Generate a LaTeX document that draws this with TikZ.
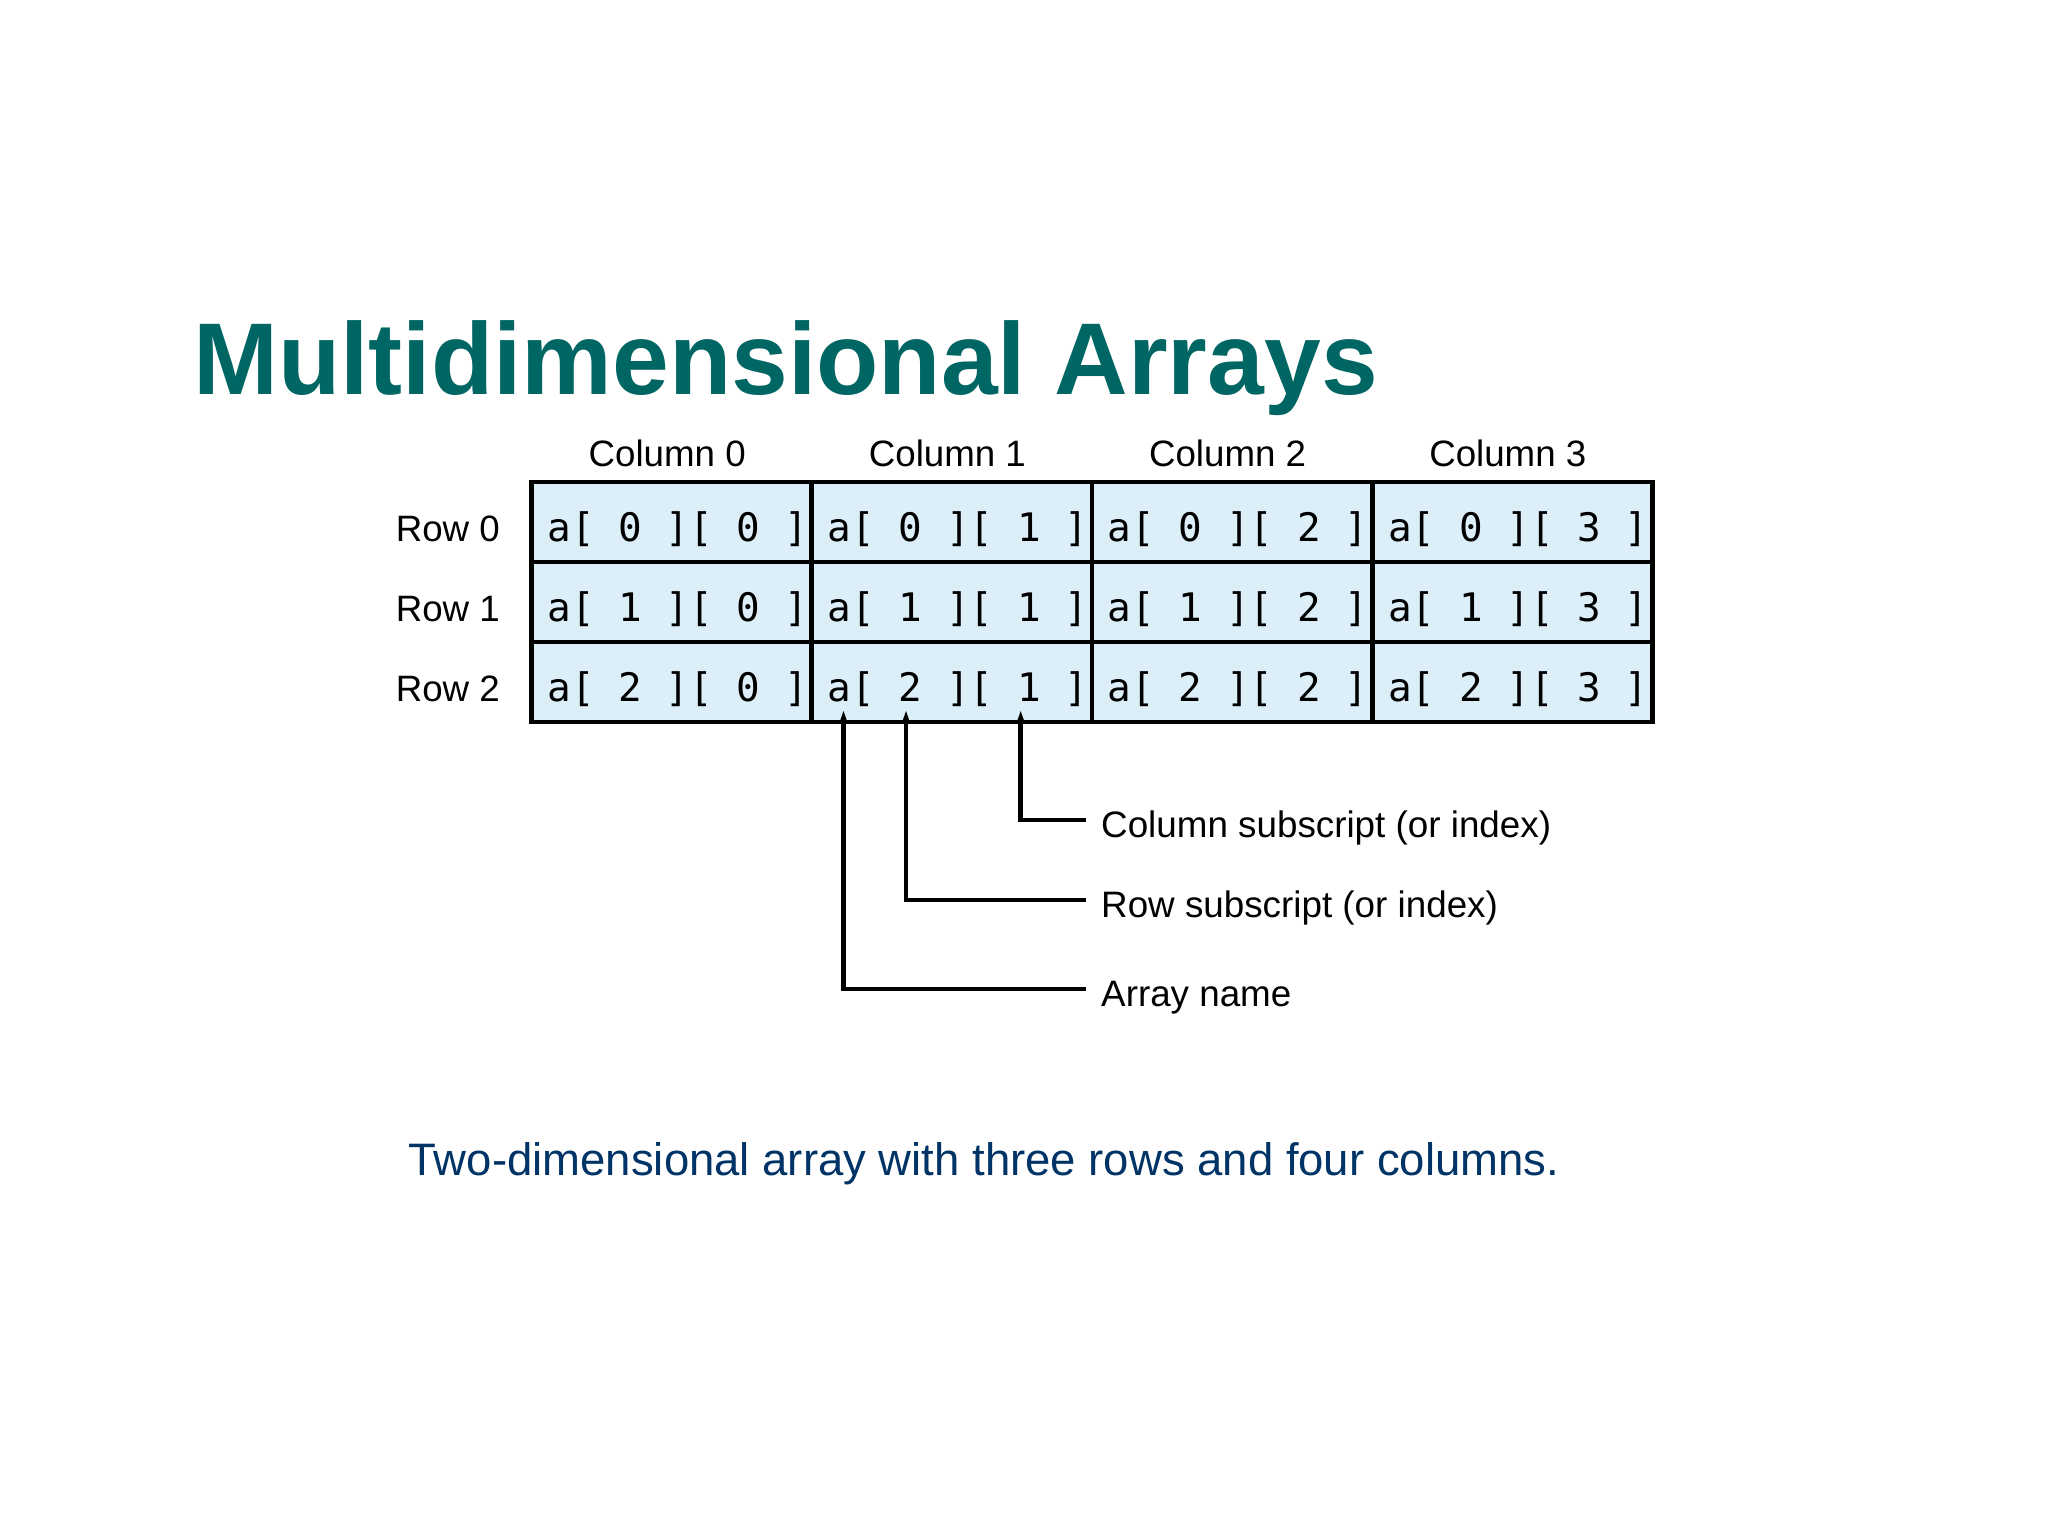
\documentclass[tikz,border=0pt]{standalone}
\usepackage{fontspec}
\setmainfont{Liberation Sans}
\newfontfamily\cellfont{DejaVu Sans Mono}
\usetikzlibrary{arrows.meta}
\definecolor{titleteal}{RGB}{0,102,100}
\definecolor{capblue}{RGB}{0,51,102}
\definecolor{cellblue}{RGB}{220,238,248}
\tikzset{
  cellbox/.style={draw=black, line width=4.8pt, fill=cellblue, minimum width=280.2pt,
    minimum height=80pt, inner sep=0pt, text height=38pt, text depth=0pt,
    font=\cellfont\fontsize{39.3pt}{42pt}\selectfont,
    execute at begin node={\hspace*{12pt}}},
  lbl/.style={font=\fontsize{36.7pt}{40pt}\selectfont, inner sep=0pt},
  callout/.style={font=\fontsize{36.8pt}{40pt}\selectfont, inner xsep=15pt, inner ysep=0pt,
    text height=34pt, text depth=0pt, anchor=west},
  conn/.style={line width=4.8pt, -{Stealth[length=13pt,width=9pt]}},
}
\begin{document}
\begin{tikzpicture}[x=1pt,y=-1pt]
\useasboundingbox[fill=white] (0,0) rectangle (2048,1536);
\node[anchor=base west, font=\bfseries\fontsize{102pt}{110pt}\selectfont, text=titleteal, inner sep=0pt] (title) at (193,394) {Multidimensional Arrays};
\foreach \c in {0,1,2,3} {
  \node[lbl, anchor=base] (col\c) at ({667.2+280.2*\c},466) {Column \c};
}
\foreach \r in {0,1,2} {
  \node[lbl, anchor=base east] (row\r) at (500,{541+80*\r}) {Row \r};
  \foreach \c in {0,1,2,3} {
    \node[cellbox] (c\r\c) at ({671.7+280.2*\c},{522+80*\r}) {a[ \r{} ][ \c{} ]};
  }
}
\coordinate (tname) at (843.5,711);
\coordinate (trow) at (906,711);
\coordinate (tcol) at (1020.7,711);
\node[callout] (lcol) at (1086,820) {Column subscript (or index)};
\node[callout] (lrow) at (1086,900) {Row subscript (or index)};
\node[callout] (lname) at (1086,989) {Array name};
\draw[conn] (lcol.west) -| (tcol);
\draw[conn] (lrow.west) -| (trow);
\draw[conn] (lname.west) -| (tname);
\node[font=\fontsize{45.5pt}{50pt}\selectfont, text=capblue, anchor=base, inner sep=0pt] (cap) at (984,1175) {Two-dimensional array with three rows and four columns.};
\end{tikzpicture}
\end{document}
